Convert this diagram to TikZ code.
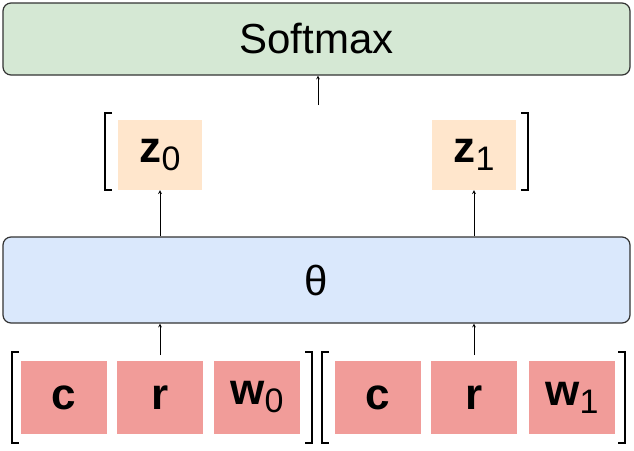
\documentclass[tikz,border=0pt]{standalone}
\usepackage{fontspec}
\setmainfont{Liberation Sans}
\definecolor{gfill}{HTML}{D5E8D4}
\definecolor{bfill}{HTML}{DAE8FC}
\definecolor{ofill}{HTML}{FFE6CC}
\definecolor{rfill}{HTML}{F19C99}
\definecolor{edge}{HTML}{333333}
\begin{document}
\begin{tikzpicture}[x=1pt,y=-1pt,
  bar/.style={draw=edge,line width=1.2pt,rounded corners=8pt},
  cell/.style={fill=rfill,minimum width=86pt,minimum height=73pt,inner sep=0pt,font=\fontsize{44}{48}\selectfont},
  zcell/.style={fill=ofill,minimum width=84pt,minimum height=70pt,inner sep=0pt,font=\fontsize{44}{48}\selectfont},
  brk/.style={draw=black,line width=1.2pt},
  arr/.style={-stealth,line width=0.7pt}]
\useasboundingbox (0,0) rectangle (634,450);
\node[bar,fill=gfill,minimum width=627pt,minimum height=72pt,inner sep=0pt,font=\fontsize{42}{46}\selectfont] (soft) at (316.5,39) {Softmax};
\node[bar,fill=bfill,minimum width=627pt,minimum height=86pt,inner sep=0pt,font=\fontsize{42}{46}\selectfont] (theta) at (316.5,280) {θ};
\node[zcell] (z0) at (160,155) {\textbf{z}\fontsize{34}{38}\selectfont\raisebox{-8pt}{0}};
\node[zcell] (z1) at (474,155) {\textbf{z}\fontsize{34}{38}\selectfont\raisebox{-8pt}{1}};
\node[cell] (c0) at (64,397.5) {\textbf{c}};
\node[cell] (r0) at (160,397.5) {\textbf{r}};
\node[cell] (w0) at (257,397.5) {\textbf{w}\fontsize{34}{38}\selectfont\raisebox{-8pt}{0}};
\node[cell] (c1) at (378,397.5) {\textbf{c}};
\node[cell] (r1) at (474,397.5) {\textbf{r}};
\node[cell] (w1) at (572,397.5) {\textbf{w}\fontsize{34}{38}\selectfont\raisebox{-8pt}{1}};
\coordinate (za) at (318,105);
\draw[arr] (za) -- (soft.south -| za);
\draw[arr] (theta.north -| z0) -- (z0.south);
\draw[arr] (theta.north -| z1) -- (z1.south);
\coordinate (ba) at (160,355);
\coordinate (bb) at (474,355);
\draw[arr] (ba) -- (theta.south -| ba);
\draw[arr] (bb) -- (theta.south -| bb);
% brackets
\draw[brk] (112,113) -- (105,113) -- (105,190) -- (112,190);
\draw[brk] (521,113) -- (528,113) -- (528,190) -- (521,190);
\draw[brk] (19,352) -- (12,352) -- (12,443) -- (19,443);
\draw[brk] (305,352) -- (312,352) -- (312,443) -- (305,443);
\draw[brk] (329,352) -- (322,352) -- (322,443) -- (329,443);
\draw[brk] (618,352) -- (625,352) -- (625,443) -- (618,443);
\end{tikzpicture}
\end{document}
